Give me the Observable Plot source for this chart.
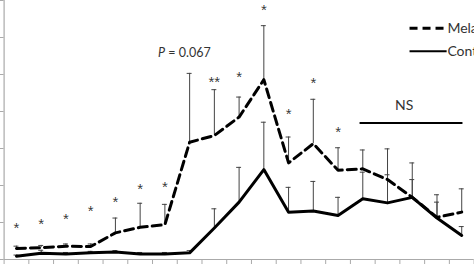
<!DOCTYPE html>
<html>
<head>
<meta charset="utf-8">
<script src="https://cdn.jsdelivr.net/npm/d3@7"></script>
<script src="https://cdn.jsdelivr.net/npm/@observablehq/plot@0.6"></script>
<style>
  html, body { margin: 0; padding: 0; background: #fff; overflow: hidden; }
  svg { display: block; }
</style>
</head>
<body>
<div id="chart"></div>
<script>
// Time points (categories)
const timePoints = [1,2,3,4,5,6,7,8,9,10,11,12,13,14,15,16,17,18,19];
// Melatonin group (dashed): mean and mean+SE
const melatonin   = [0.30,0.32,0.36,0.35,0.72,0.87,0.94,3.17,3.35,3.85,4.86,2.61,3.13,2.41,2.45,2.16,1.68,1.14,1.28];
const melatoninHi = [0.36,0.38,0.42,0.42,1.12,1.52,1.49,5.03,4.59,4.39,6.32,3.31,4.33,3.02,2.96,2.99,2.61,1.75,1.91];
// Control group (solid): mean and mean+SE
const control     = [0.09,0.17,0.15,0.18,0.20,0.15,0.15,0.18,0.85,1.55,2.43,1.28,1.31,1.19,1.64,1.53,1.68,1.12,0.65];
const controlHi   = [0.12,0.25,0.19,0.22,0.24,0.19,0.19,0.24,1.37,2.49,3.71,1.95,2.11,1.68,2.36,2.29,2.16,1.55,0.89];
// Significance marks and their heights
const sigLabels = ["*","*","*","*","*","*","*","","**","*","*","*","*","*","","","","",""];
const sigY      = [0.95,1.05,1.19,1.41,1.66,2.02,2.05,0,4.91,5.04,6.84,4.03,4.88,3.56,0,0,0,0,0];
const yTicks = [0,1,2,3,4,5,6,7];
const seriesNames = ["Melatonin","Control"];

const mel = timePoints.map((t,i)=>({t, v: melatonin[i], hi: melatoninHi[i]}));
const ctl = timePoints.map((t,i)=>({t, v: control[i], hi: controlHi[i]}));
const sig = timePoints.map((t,i)=>({t, label: sigLabels[i], y: sigY[i]})).filter(d=>d.label);
const bounds = [...timePoints.map(t=>t-0.5), timePoints[timePoints.length-1]+0.5];

const font = "Lato, 'Open Sans', sans-serif";
const errColor = "#444";
const cap = 0.1;

const chart = Plot.plot({
  width: 474,
  height: 264,
  marginLeft: 3.6,
  marginRight: 0.4,
  marginTop: 0,
  marginBottom: 5,
  style: {fontFamily: font, background: "#fff", overflow: "visible"},
  x: {domain: [0.5, 19.5], label: null},
  y: {domain: [0, 7], label: null},
  marks: [
    // axes
    Plot.axisY({ticks: yTicks, tickSize: 4, tickFormat: () => "", stroke: "#aaa", label: null}),
    Plot.axisX({ticks: bounds, tickSize: 5, tickFormat: () => "", stroke: "#aaa", label: null}),
    Plot.ruleX([0.5], {stroke: "#aaa", strokeWidth: 1.2}),
    Plot.ruleY([0], {stroke: "#aaa", strokeWidth: 1.2}),
    // error bars (upper only)
    Plot.ruleX(ctl, {x: "t", y1: "v", y2: "hi", stroke: errColor, strokeWidth: 1}),
    Plot.ruleY(ctl, {y: "hi", x1: d => d.t - cap, x2: d => d.t + cap, stroke: errColor, strokeWidth: 1}),
    Plot.ruleX(mel, {x: "t", y1: "v", y2: "hi", stroke: errColor, strokeWidth: 1}),
    Plot.ruleY(mel, {y: "hi", x1: d => d.t - cap, x2: d => d.t + cap, stroke: errColor, strokeWidth: 1}),
    // lines
    Plot.line(ctl, {x: "t", y: "v", stroke: "#000", strokeWidth: 3}),
    Plot.line(mel, {x: "t", y: "v", stroke: "#000", strokeWidth: 3, strokeDasharray: "9,5"}),
    // significance asterisks
    Plot.text(sig, {x: "t", y: "y", text: "label", fontSize: 15, fill: "#333", fillOpacity: 0.99, dy: 4,
      fontFamily: "'Liberation Sans', sans-serif"}),
    // annotations
    Plot.text(["P = 0.067"], {x: 7.79, y: 5.58, text: d => d, fontSize: 12.5, fill: "#333",
      render: (i, s, v, d, ctx, next) => {
        const g = next(i, s, v, d, ctx);
        const t = g.querySelector("text");
        t.textContent = "";
        const it = document.createElementNS("http://www.w3.org/2000/svg", "tspan");
        it.setAttribute("font-style", "italic"); it.textContent = "P";
        t.appendChild(it);
        t.appendChild(document.createTextNode(" = 0.067"));
        return g;
      }}),
    Plot.text(["NS"], {x: 16.67, y: 4.16, text: d => d, fontSize: 14, fill: "#333"}),
    Plot.ruleY([3.69], {x1: 14.89, x2: 19.05, stroke: "#000", strokeWidth: 2}),
    // legend
    Plot.ruleY([6.25], {x1: 16.91, x2: 18.41, stroke: "#000", strokeWidth: 3, strokeDasharray: "8,5"}),
    Plot.ruleY([5.63], {x1: 16.91, x2: 18.41, stroke: "#000", strokeWidth: 2}),
    Plot.text([seriesNames[0]], {x: 18.42, y: 6.25, text: d => d, textAnchor: "start", fontSize: 14, fill: "#333"}),
    Plot.text([seriesNames[1]], {x: 18.42, y: 5.63, text: d => d, textAnchor: "start", fontSize: 14, fill: "#333"})
  ]
});
document.getElementById("chart").appendChild(chart);
</script>
</body>
</html>
